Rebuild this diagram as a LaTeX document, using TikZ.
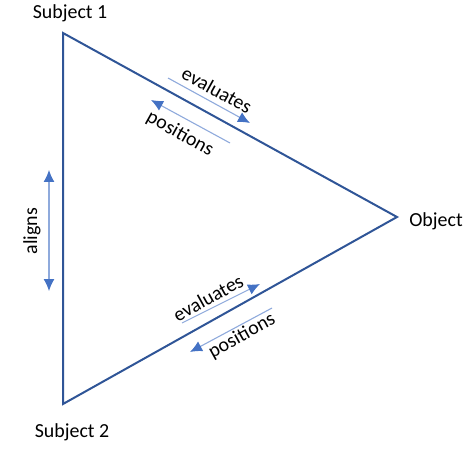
\documentclass[tikz,border=0pt]{standalone}
\usepackage{fontspec}
\setmainfont{Carlito}
\usepackage{tikz}
\usetikzlibrary{arrows.meta}

\definecolor{edgeblue}{HTML}{2F5597}
\definecolor{shaftblue}{HTML}{8FAADC}
\definecolor{headblue}{HTML}{4472C4}

\tikzset{
    lbl/.style={font=\fontsize{20}{24}\selectfont, inner sep=0pt},
    rel/.style={shaftblue, line width=1.1bp, -{Latex[length=12bp,width=11bp,color=headblue]}},
    both/.style={shaftblue, line width=1.1bp, {Latex[length=12bp,width=11bp,color=headblue]}-{Latex[length=12bp,width=11bp,color=headblue]}}
}

\begin{document}
\begin{tikzpicture}[x=1bp, y=-1bp]
    \useasboundingbox (0, 0) rectangle (474, 449);

    \coordinate (S1) at (63, 33);
    \coordinate (O) at (397, 217);
    \coordinate (S2) at (63, 404);

    \node[lbl] (s1) at (70, 13) {Subject 1};
    \node[lbl] (o) at (436, 221) {Object};
    \node[lbl] (s2) at (72, 432) {Subject 2};

    \draw[edgeblue, line width=2bp, line join=miter] (S1) -- (O) -- (S2) -- cycle;

    % top edge
    \coordinate (e1a) at (168, 78);
    \coordinate (e1b) at (250, 123);
    \coordinate (p1a) at (230, 143);
    \coordinate (p1b) at (151, 100);
    \draw[rel] (e1a) -- (e1b);
    \draw[rel] (p1a) -- (p1b);
    \node[lbl, rotate=-29] (ev1) at (217, 90) {evaluates};
    \node[lbl, rotate=-29] (po1) at (180, 134) {positions};

    % bottom edge
    \coordinate (e2a) at (182, 323);
    \coordinate (e2b) at (260, 284);
    \coordinate (p2a) at (272, 308);
    \coordinate (p2b) at (190, 352);
    \draw[rel] (e2a) -- (e2b);
    \draw[rel] (p2a) -- (p2b);
    \node[lbl, rotate=29] (ev2) at (208, 298) {evaluates};
    \node[lbl, rotate=29] (po2) at (242, 336) {positions};

    % left edge
    \coordinate (a1) at (49, 170);
    \coordinate (a2) at (49, 291);
    \draw[both] (a1) -- (a2);
    \node[lbl, rotate=90] (al) at (32, 231) {aligns};
\end{tikzpicture}
\end{document}
